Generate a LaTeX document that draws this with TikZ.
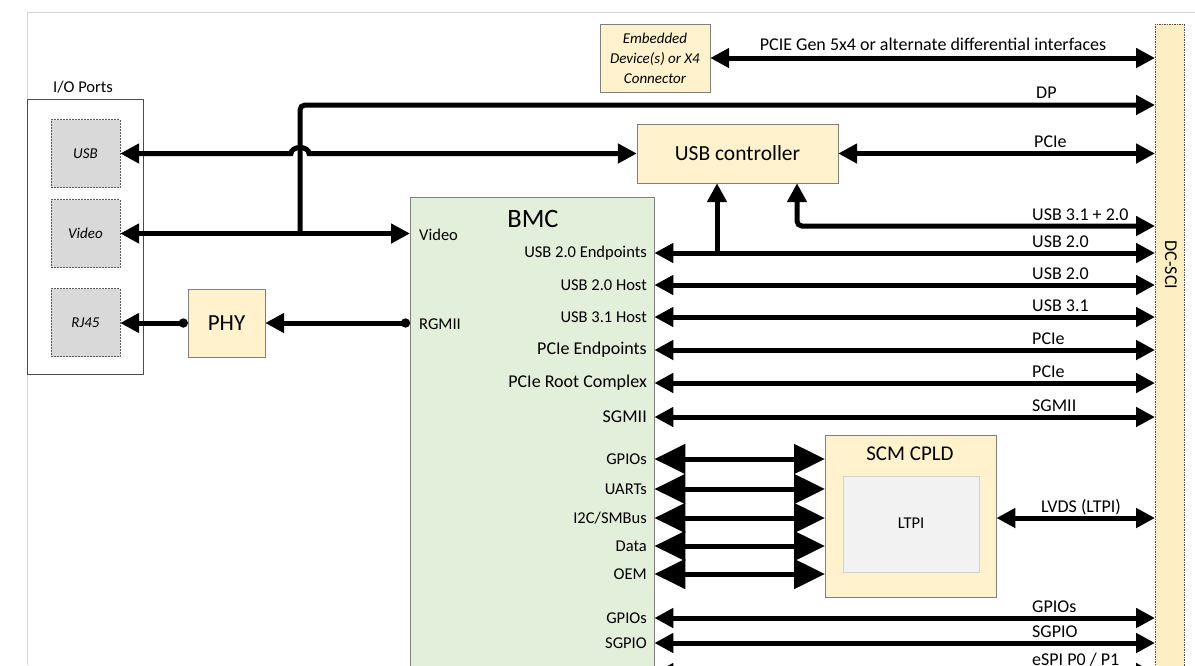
\documentclass[tikz,border=0pt]{standalone}
\usepackage{fontspec}
\setmainfont{Carlito}
\usepackage{tikz}
\usetikzlibrary{arrows.meta,positioning,calc}
\definecolor{boxyellow}{HTML}{FFF2CC}
\definecolor{baryellow}{HTML}{FDEEC4}
\definecolor{bmcgreen}{HTML}{E2EFDA}
\definecolor{portgray}{HTML}{D9D9D9}
\definecolor{edgegray}{HTML}{7F7F7F}
\definecolor{framegray}{HTML}{D6D6D6}
\definecolor{ltpigray}{HTML}{F2F2F2}
\tikzset{hd/.tip={Triangle[length=19pt,width=19pt]},bighd/.tip={Triangle[length=31pt,width=29pt]},dot/.tip={Circle[length=9pt]},
bus/.style={line width=5pt},both/.style={bus,hd-hd},one/.style={bus,-hd},fat/.style={bus,bighd-bighd},tap/.style={bus,dot-hd},
blk/.style={draw=edgegray,fill=boxyellow,align=center,inner sep=0pt},lbl/.style={font=\fontsize{16.5}{20}\selectfont,inner sep=0pt},big/.style={font=\fontsize{18}{22}\selectfont,inner sep=0pt}}

\begin{document}
\begin{tikzpicture}[x=1pt,y=-1pt,port/.style={draw=black!65,dash pattern=on 2pt off 1pt,fill=portgray,minimum width=69,minimum height=68,font=\fontsize{15}{18}\selectfont\itshape},panel/.style={anchor=north west,inner sep=0pt}]
\useasboundingbox (0,0) rectangle (1195,665);
\clip (0,0) rectangle (1195,665);
\fill[white] (0,0) rectangle (1195,665);
\draw[framegray,line width=1pt] (27,665)--(27,12)--(1195,12);
% I/O side
\node[panel,draw=black!70,minimum width=116,minimum height=275] (io) at (27,99) {};
\node[lbl] (iolbl) at (83,87) {I/O Ports};
\foreach \n/\t/\y in {usbp/USB/153.5,vidp/Video/233.5,rjp/RJ45/322.5}{\node[port] (\n) at (85.5,\y) {\t};}
\node[blk,minimum width=77,minimum height=68,font=\fontsize{23}{27}\selectfont] (phy) at (226.5,323) {PHY};
% blocks
\node[panel,draw=edgegray,fill=bmcgreen,minimum width=244,minimum height=490] (bmc) at (410,197) {};
\node[font=\fontsize{26.5}{31}\selectfont] (bmct) at (533,219) {BMC};
\node[blk,minimum width=110,minimum height=68,font=\fontsize{15}{20}\selectfont\itshape] (emb) at (655,58) {Embedded\\Device(s) or X4\\Connector};
\node[blk,minimum width=201,minimum height=59,font=\fontsize{21.5}{26}\selectfont] (usbc) at (737.5,153.5) {USB controller};
\node[panel,blk,minimum width=171,minimum height=162] (scm) at (825,435) {};
\node[font=\fontsize{21}{25}\selectfont] (scmt) at (910,454) {SCM CPLD};
\node[panel,draw=black!18,fill=ltpigray,minimum width=136,minimum height=96] (ltpi) at (843,476) {};
\node[lbl] (ltpit) at (911,523) {LTPI};
\node[panel,draw=black!70,dash pattern=on 1.5pt off 1pt,fill=baryellow,minimum width=29,minimum height=660] (bar) at (1155,24) {};
\node[big,rotate=-90] (barlbl) at (1171,265) {DC-SCI};
% top links
\draw[both] (emb.east)--(bar.west |- emb.east);
\node[big] (pcielbl) at (933,44) {PCIE Gen 5x4 or alternate differential interfaces};
\coordinate (vj) at (300,233.5);
\draw[both] (vidp.east)--(bmc.west |- vidp.east);
\node[lbl,anchor=west] (vidlbl) at (419,235) {Video};
\draw[one,rounded corners=5pt] (vj)--(300,105)--(bar.west |- 0,105);
\node[big,anchor=base west] (dplbl) at (1036,98) {DP};
\draw[both] (usbp.east)--(291,153.5) arc[start angle=180,end angle=0,x radius=9pt,y radius=6pt]--(usbc.west);
\draw[both] (usbc.east)--(bar.west |- usbc.east);
\node[big,anchor=base west] (pcielbl2) at (1034,147) {PCIe};
\draw[both,rounded corners=5pt] (bar.west |- 0,226)--(797,226)--(usbc.south -| 797,0);
\node[big,anchor=base west] (u3lbl) at (1032,220) {USB 3.1 + 2.0};
\coordinate (ep) at (717,253);
\draw[one] (ep)--(ep |- usbc.south);
% ethernet
\draw[tap] (bmc.west |- 0,323)--(phy.east);
\draw[tap] (phy.west)--(rjp.east |- phy.west);
\node[lbl,anchor=west] (rglbl) at (419,324) {RGMII};
% BMC to DC-SCI
\foreach \y/\s/\a/\b in {253/lbl/USB 2.0 Endpoints/USB 2.0,285/lbl/USB 2.0 Host/USB 2.0,317/lbl/USB 3.1 Host/USB 3.1,350/big/PCIe Endpoints/PCIe,383/big/PCIe Root Complex/PCIe,417/big/SGMII/SGMII,618/lbl/GPIOs/GPIOs,643/lbl/SGPIO/SGPIO}{
\draw[both] (bmc.east |- 0,\y)--(bar.west |- 0,\y);
\node[\s,anchor=east] (in\y) at (647,\y) {\a};
\node[big,anchor=base west] (out\y) at (1032,\y-6) {\b};}
\draw[both] (bmc.east |- 0,673)--(bar.west |- 0,673);
\node[big,anchor=base west] (espilbl) at (1032,665) {eSPI P0 / P1};
% BMC to SCM CPLD
\foreach \y/\a in {459/GPIOs,489/UARTs,518/{I2C/SMBus},546/Data,574/OEM}{
\draw[fat] (bmc.east |- 0,\y)--(scm.west |- 0,\y);
\node[lbl,anchor=east] (cp\y) at (647,\y) {\a};}
\draw[both] (scm.east |- 0,518)--(bar.west |- 0,518);
\node[big,anchor=base] (lvdslbl) at (1081,512) {LVDS (LTPI)};
\end{tikzpicture}
\end{document}
